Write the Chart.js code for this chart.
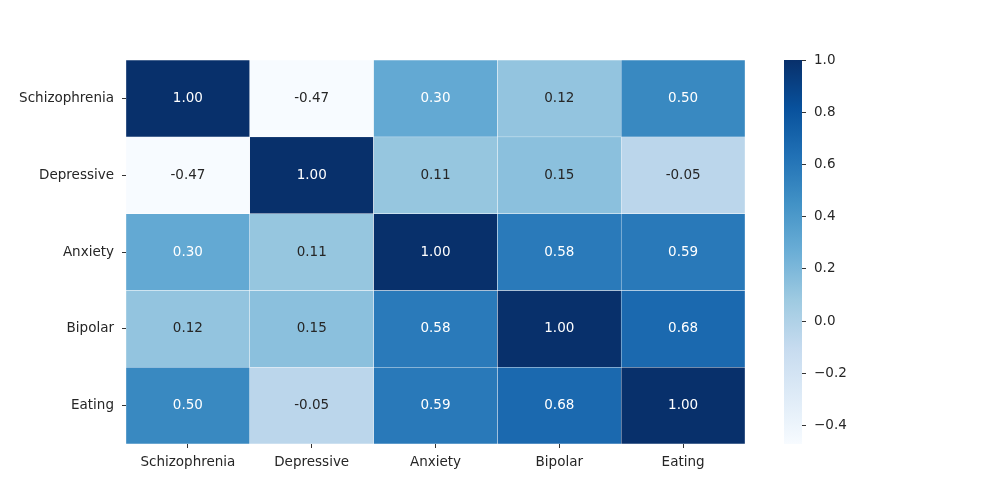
<!DOCTYPE html>
<html>
<head>
<meta charset="utf-8">
<script src="https://cdn.jsdelivr.net/npm/chart.js@4.4.0/dist/chart.umd.min.js"></script>
<style>
  body { margin: 0; background: #fff; }
  #main { position: absolute; left: 0; top: 0; width: 760px; height: 500px; }
  #bar { position: absolute; left: 760px; top: 0; width: 240px; height: 500px; }
</style>
</head>
<body>
<div id="main"><canvas id="heat"></canvas></div>
<div id="bar"><canvas id="cbar"></canvas></div>
<script>
/* dados da matriz de correlacao */
const names = ['Schizophrenia', 'Depressive', 'Anxiety', 'Bipolar', 'Eating'];
const rowSchizophrenia = [1.00, -0.47, 0.30, 0.12, 0.50];
const rowDepressive = [-0.47, 1.00, 0.11, 0.15, -0.05];
const rowAnxiety = [0.30, 0.11, 1.00, 0.58, 0.59];
const rowBipolar = [0.12, 0.15, 0.58, 1.00, 0.68];
const rowEating = [0.50, -0.05, 0.59, 0.68, 1.00];
const rows = [rowSchizophrenia, rowDepressive, rowAnxiety, rowBipolar, rowEating];
const cbTicks = [-0.4, -0.2, 0.0, 0.2, 0.4, 0.6, 0.8, 1.0];
const vmin = -0.47;
const vmax = 1.0;

// matplotlib "Blues"
const blues = [
  [247, 251, 255], [222, 235, 247], [198, 219, 239], [158, 202, 225],
  [107, 174, 214], [66, 146, 198], [33, 113, 181], [8, 81, 156], [8, 48, 107]
];

function blueRgb(v) {
  let t = (v - vmin) / (vmax - vmin);
  t = Math.max(0, Math.min(1, t));
  const p = t * (blues.length - 1);
  const i = Math.min(Math.floor(p), blues.length - 2);
  const f = p - i;
  return blues[i].map((c, k) => Math.round(c + (blues[i + 1][k] - c) * f));
}
function blueColor(v) {
  const c = blueRgb(v);
  return 'rgb(' + c[0] + ',' + c[1] + ',' + c[2] + ')';
}
function textColor(v) {
  const lin = blueRgb(v).map(c => {
    c = c / 255;
    return c <= 0.03928 ? c / 12.92 : Math.pow((c + 0.055) / 1.055, 2.4);
  });
  const lum = 0.2126 * lin[0] + 0.7152 * lin[1] + 0.0722 * lin[2];
  return lum > 0.408 ? '#262626' : '#ffffff';
}

const fontFam = '"DejaVu Sans", sans-serif';

const datasets = rows.map((row, r) => ({
  label: names[r],
  data: row.map(() => [r, r + 1]),
  values: row,
  backgroundColor: row.map(blueColor),
  borderColor: '#ffffff',
  borderWidth: 0.5,
  borderSkipped: false,
  barPercentage: 1,
  categoryPercentage: 1
}));

const annotPlugin = {
  id: 'annot',
  afterDatasetsDraw(chart) {
    const ctx = chart.ctx;
    ctx.save();
    ctx.font = '13.5px ' + fontFam;
    ctx.textAlign = 'center';
    ctx.textBaseline = 'middle';
    chart.data.datasets.forEach((ds, d) => {
      const meta = chart.getDatasetMeta(d);
      meta.data.forEach((el, i) => {
        const p = el.getProps(['x', 'y', 'base'], true);
        const v = ds.values[i];
        ctx.fillStyle = textColor(v);
        ctx.fillText(v.toFixed(2), p.x, (p.y + p.base) / 2);
      });
    });
    ctx.restore();
  }
};

const heatChart = new Chart(document.getElementById('heat'), {
  type: 'bar',
  data: { labels: names, datasets: datasets },
  options: {
    responsive: true,
    maintainAspectRatio: false,
    animation: false,
    grouped: false,
    layout: { padding: { top: 60, right: 15, left: 0, bottom: 0 } },
    plugins: { legend: { display: false }, tooltip: { enabled: false } },
    scales: {
      x: {
        type: 'category',
        offset: true,
        grid: { offset: false, drawOnChartArea: false, drawTicks: true, tickLength: 4, color: '#333' },
        border: { display: false },
        ticks: { color: '#262626', font: { family: fontFam, size: 13.5 }, padding: 6, maxRotation: 0 },
        afterFit(scale) { scale.height = 56; }
      },
      y: {
        type: 'linear',
        min: 0,
        max: 5,
        reverse: true,
        grid: { drawOnChartArea: false, drawTicks: true, tickLength: 4, color: '#333' },
        border: { display: false },
        afterBuildTicks(scale) {
          scale.ticks = names.map((n, i) => ({ value: i + 0.5 }));
        },
        ticks: {
          color: '#262626',
          font: { family: fontFam, size: 13.5 },
          padding: 8,
          callback: (v) => names[Math.floor(v)]
        },
        afterFit(scale) { scale.width = 126; }
      }
    }
  },
  plugins: [annotPlugin]
});

// barra de cores
const cbChart = new Chart(document.getElementById('cbar'), {
  type: 'bar',
  data: {
    labels: [''],
    datasets: [{
      data: [[vmin, vmax]],
      barPercentage: 1,
      categoryPercentage: 1,
      borderWidth: 0,
      backgroundColor(ctx) {
        const ca = ctx.chart.chartArea;
        if (!ca) return '#fff';
        const g = ctx.chart.ctx.createLinearGradient(0, ca.bottom, 0, ca.top);
        blues.forEach((c, i) => g.addColorStop(i / (blues.length - 1), 'rgb(' + c.join(',') + ')'));
        return g;
      }
    }]
  },
  options: {
    responsive: true,
    maintainAspectRatio: false,
    animation: false,
    layout: { padding: { top: 60, left: 24, right: 0, bottom: 56 } },
    plugins: { legend: { display: false }, tooltip: { enabled: false } },
    scales: {
      x: { display: false },
      y: {
        position: 'right',
        min: vmin,
        max: vmax,
        grid: { drawOnChartArea: false, drawTicks: true, tickLength: 4, color: '#333' },
        border: { display: false },
        afterBuildTicks(scale) {
          scale.ticks = cbTicks.map(v => ({ value: v }));
        },
        ticks: {
          color: '#262626',
          font: { family: fontFam, size: 13.5 },
          padding: 8,
          callback: (v) => v.toFixed(1).replace('-', '\u2212')
        },
        afterFit(scale) { scale.width = 198; }
      }
    }
  }
});
</script>
</body>
</html>
